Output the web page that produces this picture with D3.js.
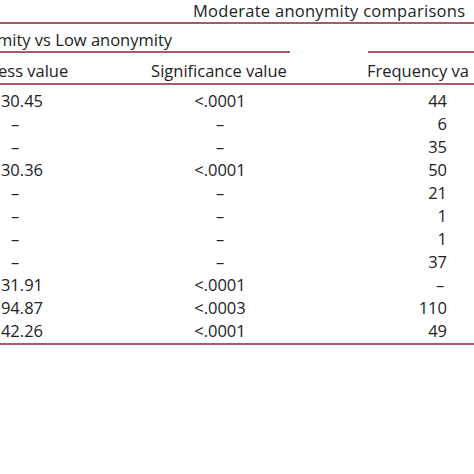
<!DOCTYPE html><html><head><script src="https://cdn.jsdelivr.net/npm/d3@7"></script>
<style>body{margin:0;background:#fff}</style></head><body><script>
const col1 = ["30.45","–","–","30.36","–","–","–","–","31.91","94.87","42.26"];
const col2 = ["<.0001","–","–","<.0001","–","–","–","–","<.0001","<.0003","<.0001"];
const col3 = ["44","6","35","50","21","1","1","37","–","110","49"];
const headers = ["ess value","Significance value","Frequency va"];
const rows = d3.range(col1.length);
const W=474,H=474, line="#8a2435";
const svg=d3.select("body").append("svg").attr("width",W).attr("height",H)
 .style("font-family","'Open Sans',sans-serif").style("font-size","16.5px").attr("fill","#222");
const y=d3.scaleLinear().domain([0,col1.length-1]).range([101,331]);
svg.append("text").attr("x",329).attr("y",17).attr("text-anchor","middle").attr("textLength",272).text("Moderate anonymity comparisons");
svg.append("text").attr("x",-3).attr("y",46).text("mity vs Low anonymity");
[[0,W,23],[0,290,52],[368,W,52],[0,W,84],[0,W,344]].forEach(([a,b,yy])=>
 svg.append("line").attr("x1",a).attr("x2",b).attr("y1",yy).attr("y2",yy).attr("stroke",line).attr("stroke-width",1.5));
svg.append("text").attr("x",-2).attr("y",77).text(headers[0]);
svg.append("text").attr("x",219).attr("y",77).attr("text-anchor","middle").text(headers[1]);
svg.append("text").attr("x",367).attr("y",77).text(headers[2]);
rows.forEach(i=>{
 const yy=y(i)+6, d1=col1[i]==="–";
 svg.append("text").attr("x",d1?15:43).attr("y",yy).attr("text-anchor",d1?"middle":"end").text(col1[i]);
 svg.append("text").attr("x",220).attr("y",yy).attr("text-anchor","middle").text(col2[i]);
 const d3c=col3[i]==="–";
 svg.append("text").attr("x",d3c?440:447).attr("y",yy).attr("text-anchor",d3c?"middle":"end").text(col3[i]);
});
</script></body></html>
